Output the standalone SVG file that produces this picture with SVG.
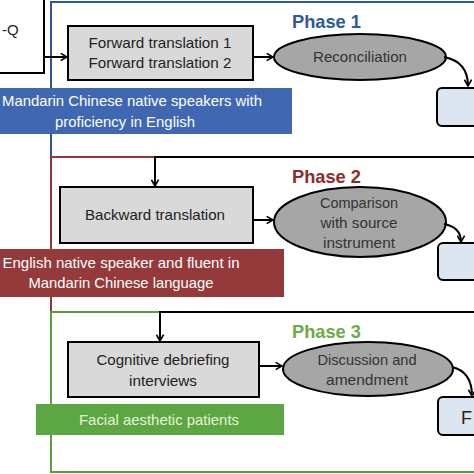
<svg xmlns="http://www.w3.org/2000/svg" width="474" height="474" viewBox="0 0 474 474">
<defs>
<marker id="ah" viewBox="0 0 10 10" refX="9" refY="5" markerWidth="9" markerHeight="9" orient="auto" markerUnits="userSpaceOnUse">
<path d="M2,1 L9,5 L2,9" fill="none" stroke="#000" stroke-width="1.8"/>
</marker>
<style>
text{font-family:"Liberation Sans","Open Sans",sans-serif;}
.frame{fill:none;stroke-width:2;}
.proc{fill:#d9d9d9;stroke:#000;stroke-width:2;}
.ell{fill:#a6a6a6;stroke:#000;stroke-width:2;}
.out{fill:#dce6f1;stroke:#000;stroke-width:2;}
.t{font-size:14.5px;fill:#222;text-anchor:middle;}
.te{font-size:14.5px;fill:#333;text-anchor:middle;}
.lab{font-size:15px;fill:#fff;text-anchor:middle;}
.ph{font-size:18.5px;font-weight:bold;}
.con{fill:none;stroke:#000;stroke-width:2;marker-end:url(#ah);}
</style>
</defs>
<rect width="474" height="474" fill="#fff"/>
<!-- frames -->
<rect class="frame" x="51" y="2" width="450" height="155" stroke="#2f5597"/>
<rect class="frame" x="51" y="157" width="450" height="155" stroke="#953735"/>
<rect class="frame" x="51" y="312" width="450" height="160" stroke="#5a9e3e"/>

<g id="source">
<rect x="-3" y="-3" width="47" height="76" fill="#fff" stroke="#000" stroke-width="2"/>
<text x="2" y="35" font-size="15" fill="#222">-Q</text>
</g>

<g id="phase1">
<text class="ph" x="292" y="28" fill="#2e5a9c" textLength="69" lengthAdjust="spacingAndGlyphs">Phase 1</text>
</g>
<g id="fwd">
<rect class="proc" x="68" y="26" width="185" height="54"/>
<text class="t" x="160" y="48" textLength="143" lengthAdjust="spacingAndGlyphs">Forward translation 1</text>
<text class="t" x="160" y="68" textLength="143" lengthAdjust="spacingAndGlyphs">Forward translation 2</text>
</g>
<g id="recon">
<ellipse class="ell" cx="360" cy="57" rx="86" ry="23"/>
<text class="te" x="360" y="62" textLength="94" lengthAdjust="spacingAndGlyphs">Reconciliation</text>
</g>
<g id="out1">
<rect class="out" x="437" y="88" width="60" height="38" rx="5"/>
</g>
<g id="lab1">
<rect x="-2" y="88" width="294" height="46" fill="#4068b2"/>
<text class="lab" x="132" y="106" textLength="260" lengthAdjust="spacingAndGlyphs">Mandarin Chinese native speakers with</text>
<text class="lab" x="125" y="127" textLength="140" lengthAdjust="spacingAndGlyphs">proficiency in English</text>
</g>

<g id="phase2">
<text class="ph" x="292" y="183" fill="#8e2b2b" textLength="69" lengthAdjust="spacingAndGlyphs">Phase 2</text>
</g>
<g id="bwd">
<rect class="proc" x="60" y="187" width="193" height="56"/>
<text class="t" x="155" y="220" textLength="140" lengthAdjust="spacingAndGlyphs">Backward translation</text>
</g>
<g id="compare">
<ellipse class="ell" cx="360" cy="222" rx="86" ry="35"/>
<text class="te" x="359" y="208" textLength="78" lengthAdjust="spacingAndGlyphs">Comparison</text>
<text class="te" x="359" y="228" textLength="77" lengthAdjust="spacingAndGlyphs">with source</text>
<text class="te" x="359" y="248" textLength="72" lengthAdjust="spacingAndGlyphs">instrument</text>
</g>
<g id="out2">
<rect class="out" x="438" y="243" width="60" height="37" rx="5"/>
</g>
<g id="lab2">
<rect x="-2" y="249" width="286" height="48" fill="#953a3a"/>
<text class="lab" x="121" y="268" textLength="237" lengthAdjust="spacingAndGlyphs">English native speaker and fluent in</text>
<text class="lab" x="121" y="288" textLength="185" lengthAdjust="spacingAndGlyphs">Mandarin Chinese language</text>
</g>

<g id="phase3">
<text class="ph" x="292" y="338" fill="#6aac4a" textLength="69" lengthAdjust="spacingAndGlyphs">Phase 3</text>
</g>
<g id="cog">
<rect class="proc" x="68" y="342" width="191" height="55"/>
<text class="t" x="163" y="365" textLength="133" lengthAdjust="spacingAndGlyphs">Cognitive debriefing</text>
<text class="t" x="163" y="386" textLength="68" lengthAdjust="spacingAndGlyphs">interviews</text>
</g>
<g id="discuss">
<ellipse class="ell" cx="368" cy="369" rx="85" ry="27"/>
<text class="te" x="367" y="365" textLength="99" lengthAdjust="spacingAndGlyphs">Discussion and</text>
<text class="te" x="367" y="385" textLength="82" lengthAdjust="spacingAndGlyphs">amendment</text>
</g>
<g id="out3">
<rect class="out" x="438" y="397" width="60" height="38" rx="5"/>
<text x="461" y="424" font-size="18" fill="#222">F</text>
</g>
<g id="lab3">
<rect x="36" y="404" width="248" height="31" fill="#5ca643"/>
<text x="159" y="425" font-size="15" fill="#e6f2d8" text-anchor="middle" textLength="160" lengthAdjust="spacingAndGlyphs">Facial aesthetic patients</text>
</g>

<g id="connectors">
<path class="con" d="M44,57 L67,57"/>
<path class="con" d="M253,57 L273,57"/>
<path class="con" d="M444,57 C460,60 468,70 468,86"/>
<path class="con" d="M474,157 L155,157 L155,186"/>
<path class="con" d="M253,220 L273,220"/>
<path class="con" d="M444,224 C455,226 461,232 461,242"/>
<path class="con" d="M474,312 L160,312 L160,341"/>
<path class="con" d="M259,366 L282,366"/>
<path class="con" d="M452,367 C465,370 472,380 472,396"/>
</g>
</svg>
